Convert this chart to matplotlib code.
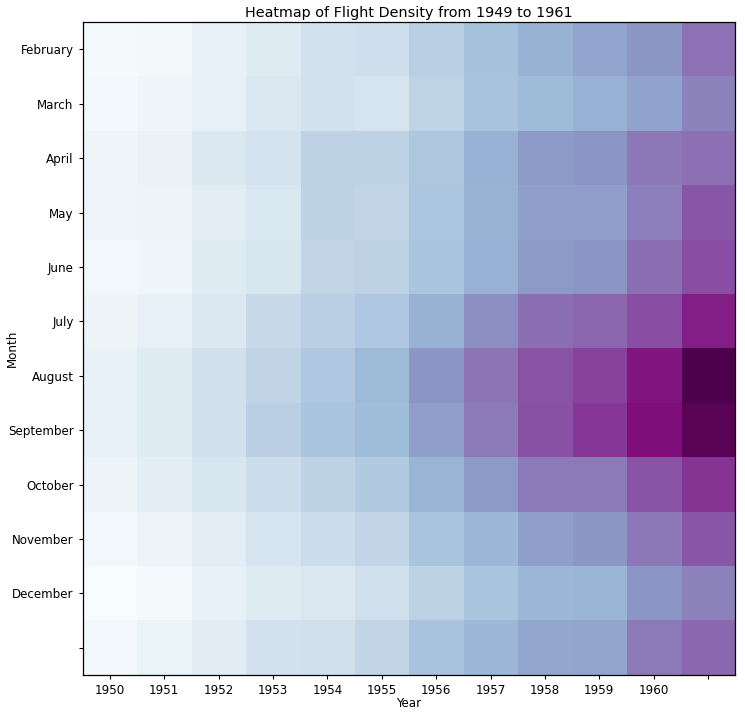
import matplotlib
matplotlib.use('Agg')
import matplotlib.pyplot as plt
import numpy as np

# passengers per month (rows: Jan..Dec), columns: 1949..1960
years = [1949, 1950, 1951, 1952, 1953, 1954, 1955, 1956, 1957, 1958, 1959, 1960]
months = ['January', 'February', 'March', 'April', 'May', 'June', 'July',
          'August', 'September', 'October', 'November', 'December']
p1949 = [112, 118, 132, 129, 121, 135, 148, 148, 136, 119, 104, 118]
p1950 = [115, 126, 141, 135, 125, 149, 170, 170, 158, 133, 114, 140]
p1951 = [145, 150, 178, 163, 172, 178, 199, 199, 184, 162, 146, 166]
p1952 = [171, 180, 193, 181, 183, 218, 230, 242, 209, 191, 172, 194]
p1953 = [196, 196, 236, 235, 229, 243, 264, 272, 237, 211, 180, 201]
p1954 = [204, 188, 235, 227, 234, 264, 302, 293, 259, 229, 203, 229]
p1955 = [242, 233, 267, 269, 270, 315, 364, 347, 312, 274, 237, 278]
p1956 = [284, 277, 317, 313, 318, 374, 413, 405, 355, 306, 271, 306]
p1957 = [315, 301, 356, 348, 355, 422, 465, 467, 404, 347, 305, 336]
p1958 = [340, 318, 362, 348, 363, 435, 491, 505, 404, 359, 310, 337]
p1959 = [360, 342, 406, 396, 420, 472, 548, 559, 463, 407, 362, 405]
p1960 = [417, 391, 419, 461, 472, 535, 622, 606, 508, 461, 390, 432]

# tick labels as they appear (shifted by one)
xlabels = ['1950', '1951', '1952', '1953', '1954', '1955', '1956', '1957',
           '1958', '1959', '1960', '']
ylabels = ['February', 'March', 'April', 'May', 'June', 'July', 'August',
           'September', 'October', 'November', 'December', '']

data = np.array([p1949, p1950, p1951, p1952, p1953, p1954, p1955, p1956,
                 p1957, p1958, p1959, p1960]).T

plt.rcParams['font.size'] = 8.6
plt.rcParams['xtick.major.size'] = 3
plt.rcParams['ytick.major.size'] = 3
plt.rcParams['axes.linewidth'] = 0.9

fig = plt.figure(figsize=(7.45, 7.13), dpi=100)
ax = fig.add_axes([0.111, 0.0533, 0.876, 0.9157])
ax.imshow(data, cmap='BuPu', aspect='auto', interpolation='nearest')
ax.set_xticks(range(len(years)))
ax.set_xticklabels(xlabels)
ax.set_yticks(range(len(months)))
ax.set_yticklabels(ylabels)
ax.set_xlabel('Year', labelpad=0)
ax.set_ylabel('Month')
ax.yaxis.set_label_coords(-0.098, 0.5)
ax.set_title('Heatmap of Flight Density from 1949 to 1961', pad=4)
fig.savefig('out.png', dpi=100)
